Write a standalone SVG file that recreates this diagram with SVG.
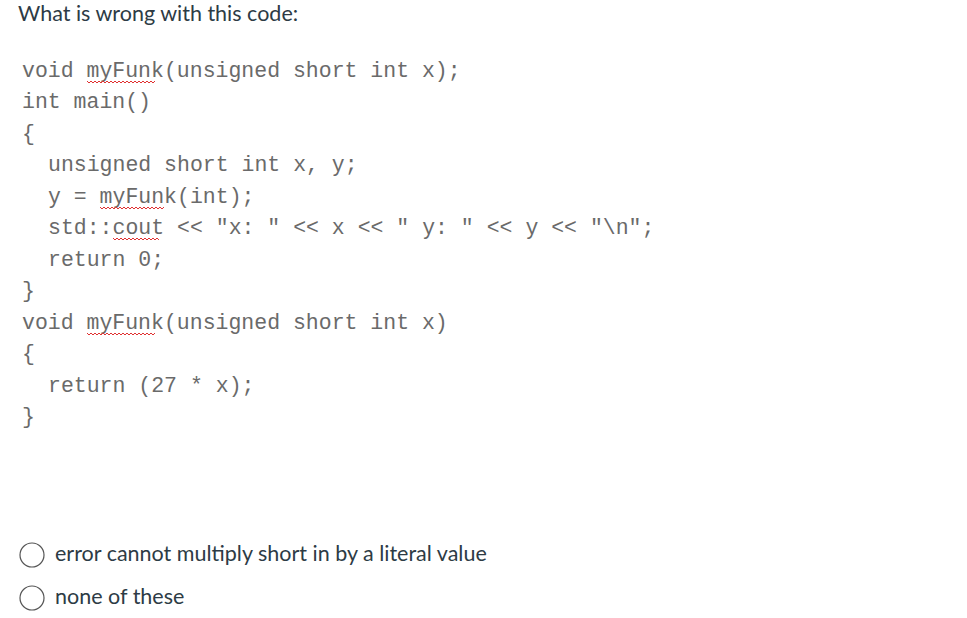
<svg xmlns="http://www.w3.org/2000/svg" width="967" height="618" viewBox="0 0 967 618">
<style>
.t{font-family:Lato,"Liberation Sans",sans-serif;fill:#2d3b45}
.c{font-family:"Liberation Mono","DejaVu Sans Mono",monospace;font-size:21.5px;fill:#6a6a6a}
.sq{fill:none;stroke:#e03030;stroke-width:1}
.r{fill:#fff;stroke:#555;stroke-width:1.2}
</style>
<rect width="967" height="618" fill="#fff"/>
<text class="t" x="18" y="21" font-size="21.5">What is wrong with this code:</text>
<g xml:space="preserve">
<text class="c" x="22" y="77">void myFunk(unsigned short int x);</text>
<text class="c" x="22" y="108">int main()</text>
<text class="c" x="22" y="140">{</text>
<text class="c" x="48" y="171">unsigned short int x, y;</text>
<text class="c" x="48" y="203">y = myFunk(int);</text>
<text class="c" x="48" y="234">std::cout &lt;&lt; "x:  " &lt;&lt; x &lt;&lt; " y:  " &lt;&lt; y &lt;&lt; "\n";</text>
<text class="c" x="48" y="266">return 0;</text>
<text class="c" x="22" y="297">}</text>
<text class="c" x="22" y="329">void myFunk(unsigned short int x)</text>
<text class="c" x="22" y="360">{</text>
<text class="c" x="48" y="392">return (27 * x);</text>
<text class="c" x="22" y="423">}</text>
</g>
<path class="sq" d="M87 81 l2 2 l2 -2 l2 2 l2 -2 l2 2 l2 -2 l2 2 l2 -2 l2 2 l2 -2 l2 2 l2 -2 l2 2 l2 -2 l2 2 l2 -2 l2 2 l2 -2 l2 2 l2 -2 l2 2 l2 -2 l2 2 l2 -2 l2 2 l2 -2 l2 2 l2 -2 l2 2 l2 -2 l2 2 l2 -2 l2 2 l2 -2"/>
<path class="sq" d="M100 207 l2 2 l2 -2 l2 2 l2 -2 l2 2 l2 -2 l2 2 l2 -2 l2 2 l2 -2 l2 2 l2 -2 l2 2 l2 -2 l2 2 l2 -2 l2 2 l2 -2 l2 2 l2 -2 l2 2 l2 -2 l2 2 l2 -2 l2 2 l2 -2 l2 2 l2 -2 l2 2 l2 -2 l2 2 l2 -2"/>
<path class="sq" d="M113 238 l2 2 l2 -2 l2 2 l2 -2 l2 2 l2 -2 l2 2 l2 -2 l2 2 l2 -2 l2 2 l2 -2 l2 2 l2 -2 l2 2 l2 -2 l2 2 l2 -2 l2 2 l2 -2 l2 2 l2 -2 l2 2"/>
<path class="sq" d="M87 333 l2 2 l2 -2 l2 2 l2 -2 l2 2 l2 -2 l2 2 l2 -2 l2 2 l2 -2 l2 2 l2 -2 l2 2 l2 -2 l2 2 l2 -2 l2 2 l2 -2 l2 2 l2 -2 l2 2 l2 -2 l2 2 l2 -2 l2 2 l2 -2 l2 2 l2 -2 l2 2 l2 -2 l2 2 l2 -2 l2 2 l2 -2"/>
<g id="opt1"><circle class="r" cx="32" cy="555" r="12"/><text class="t" x="55" y="561" font-size="21.5">error cannot multiply short in by a literal value</text></g>
<g id="opt2"><circle class="r" cx="32" cy="598" r="12"/><text class="t" x="55" y="604" font-size="21.5">none of these</text></g>
</svg>
